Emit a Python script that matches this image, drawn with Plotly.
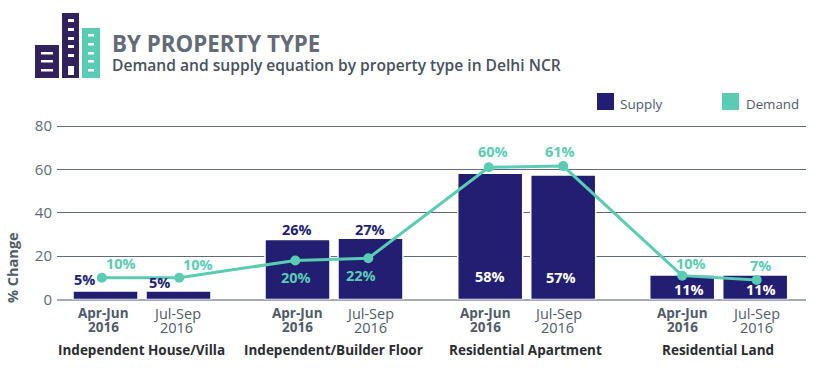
import plotly.graph_objects as go

W, H = 831, 381
FONT = "Open Sans"
NAVY, TEAL, PURPLE = "#221e72", "#5accb3", "#32215c"
SLATE, DARK = "#4f5b69", "#2a2c30"

# ---- data ----
groups = ["Independent House/Villa", "Independent/Builder Floor", "Residential Apartment", "Residential Land"]
periods = ["Apr-Jun 2016", "Jul-Sep 2016"]
supply = [3.9, 3.9, 27.7, 28.2, 58.2, 57.4, 11.3, 11.3]
demand = [10, 10, 18, 19, 61, 61.5, 11, 9]
supply_labels = ["5%", "5%", "26%", "27%", "58%", "57%", "11%", "11%"]
demand_labels = ["10%", "10%", "20%", "22%", "60%", "61%", "10%", "7%"]
y_ticks = [0, 20, 40, 60, 80]

# ---- layout helpers (positions in slot units, and pixel offsets of labels) ----
bar_x = [0, 1, 2.63, 3.63, 5.27, 6.27, 7.9, 8.9]
line_x = [-0.05, 1.01, 2.6, 3.6, 5.25, 6.27, 7.9, 8.92]
group_x = [0.49, 3.13, 5.76, 8.39]
tick_shift = [-2.5, -2, 0, 0, -5, -5.5, 0, 1]
lab_s_shift = [(-21, 0), (-19, -3), (0, -2), (0, -3), (0, -115), (-2, -114), (7, -26), (6, -26)]
lab_d_shift = [(19, -2), (19, -3), (1, -34), (-7, -34), (4, -1), (-3, -2), (9, -4), (4, -2)]
PX = dict(x0=57, x1=806, y80=126, y0=299.5)
Y_MAX = 81
y_top_px = PX["y0"] - (PX["y0"] - PX["y80"]) * Y_MAX / 80

def px(x): return x / W
def py(y): return 1 - y / H

fig = go.Figure()
fig.add_bar(x=bar_x, y=supply, width=0.89, name="Supply",
            marker=dict(color=NAVY, line=dict(color="white", width=1.5)))
fig.add_scatter(x=line_x, y=demand, mode="lines+markers", name="Demand",
                line=dict(color=TEAL, width=3), marker=dict(color=TEAL, size=10))

ann = []
def txt(x, y, s, size=14, color=SLATE, bold=False, weight=None, **k):
    f = dict(family=FONT, size=size, color=color)
    if weight: f["weight"] = weight
    a = dict(x=x, y=y, text=f"<b>{s}</b>" if bold else s, showarrow=False, font=f)
    a.setdefault("xref", "paper"); a.setdefault("yref", "paper")
    a.update(k)
    ann.append(a)

# value labels, anchored to their marks
for xv, yv, s, (dx, dy) in zip(bar_x, supply, supply_labels, lab_s_shift):
    on_bar = yv > 50 or s == "11%"
    txt(xv, yv, s, size=14.5, color="white" if on_bar else NAVY, bold=True, xref="x", yref="y",
        yanchor="bottom", xshift=dx, yshift=dy)
for xv, yv, s, (dx, dy) in zip(line_x, demand, demand_labels, lab_d_shift):
    txt(xv, yv, s, size=14.5, color=TEAL, bold=True, xref="x", yref="y",
        yanchor="bottom", xshift=dx, yshift=dy + 5)

# period labels: two separate lines so the leading can be tight
for i, (xv, dx) in enumerate(zip(bar_x, tick_shift)):
    a, b = periods[i % 2].split(" ")
    for part, ypx in ((a, 313), (b, 327)):
        txt(xv, py(ypx), part, size=13.5 if i % 2 == 0 else 14.5, bold=(i % 2 == 0),
            xref="x", yanchor="middle", xshift=dx)
# group labels
for g, xv in zip(groups, group_x):
    txt(xv, py(349.5), g, size=13.5, color=DARK, bold=True, xref="x", yanchor="middle")

# title block
txt(px(110), py(44), "BY PROPERTY TYPE", size=22.3, color="#636b78", bold=True, xanchor="left", yanchor="middle")
txt(px(110), py(64.5), "Demand and supply equation by property type in Delhi NCR", size=15.6, weight=600,
    color="#47515e", xanchor="left", yanchor="middle")
# axis title
txt(px(12), py(268), "% Change", size=14.5, bold=True, textangle=-90, yanchor="middle", xanchor="center")
# legend
txt(px(618), py(104), "Supply", size=13.5, xanchor="left", yanchor="middle")
txt(px(744), py(104), "Demand", size=13.3, xanchor="left", yanchor="middle")

def rect(x0, y0, x1, y1, c):
    return dict(type="rect", xref="paper", yref="paper", x0=px(x0), x1=px(x1), y0=py(y0), y1=py(y1),
                fillcolor=c, line=dict(width=0), layer="above")

shapes = [rect(597, 93, 614, 110, NAVY), rect(722, 93, 739, 110, TEAL)]
# logo
shapes += [rect(35, 45, 59, 78, PURPLE), rect(62, 13, 79, 78, PURPLE), rect(82, 28, 100, 78, TEAL)]
for y in (52, 60, 69):
    shapes.append(rect(41, y, 53, y + 2.5, "white"))
for y in (19, 28, 37, 45, 54):
    shapes.append(rect(68, y, 74, y + 3, "white"))
shapes.append(rect(68, 66, 74, 75, "white"))
for y in (34, 43, 52, 60, 69):
    shapes.append(rect(88, y, 94, y + 2.5, "white"))

unit = 73.0
fig.update_layout(
    width=W, height=H, margin=dict(l=0, r=0, t=0, b=0, pad=0, autoexpand=False), autosize=False,
    paper_bgcolor="white", plot_bgcolor="white", showlegend=False,
    annotations=ann, shapes=shapes,
    xaxis=dict(domain=[PX["x0"] / W, PX["x1"] / W], showgrid=False, zeroline=False, showticklabels=False,
               automargin=False,
               range=[(PX["x0"] - 105.5) / unit, (PX["x1"] - 105.5) / unit], fixedrange=True),
    yaxis=dict(domain=[py(PX["y0"]), py(y_top_px)], range=[0, Y_MAX], tickvals=y_ticks, showgrid=True,
               automargin=False,
               gridcolor="#5f6b7a", gridwidth=1.2, zeroline=True, zerolinecolor="#a4aab5", zerolinewidth=2,
               ticks="", ticklabelstandoff=4, tickfont=dict(family=FONT, size=15, color="#5f6a77"),
               showline=False, fixedrange=True),
    font=dict(family=FONT),
)
fig.write_html("out.html", post_script="document.body.style.margin='0';", config={"displayModeBar": False})
